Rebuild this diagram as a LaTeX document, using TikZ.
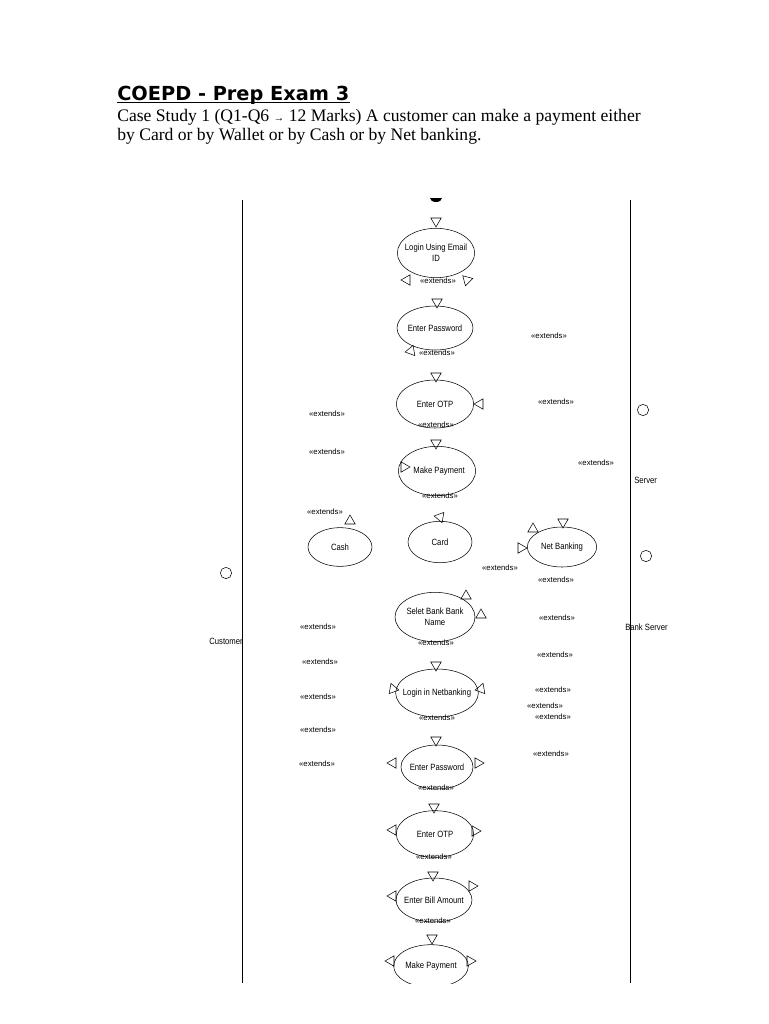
\documentclass[tikz,border=0pt]{standalone}
\usepackage{fontspec}
\setmainfont{Liberation Serif}
\newfontfamily\headfont{DejaVu Sans}
\newfontfamily\umlfont{Liberation Sans}
\newfontfamily\ucfont[FakeStretch=0.85]{Liberation Sans}
\usetikzlibrary{shapes.geometric}

\begin{document}
\begin{tikzpicture}[x=0.75pt,y=-0.75pt,
    uctext/.style={inner sep=0pt,align=center,font=\ucfont\fontsize{6.8}{8}\selectfont},
    usecase/.style n args={3}{draw,ellipse,inner sep=0pt,minimum width=#1,minimum height=#2,label={[uctext]center:#3}},
    ext/.style={inner sep=0pt,font=\umlfont\fontsize{5.8}{7}\selectfont},
    tri/.style={draw,regular polygon,regular polygon sides=3,inner sep=0pt,minimum size=9pt},
    actor/.style={draw,circle,inner sep=0pt,minimum size=8.5pt},
    lbl/.style={inner sep=0pt,font=\ucfont\fontsize{6.8}{8}\selectfont}]
    \useasboundingbox (0,0) rectangle (768,1024);
    % heading
    \node[anchor=base west,inner sep=0pt,font=\headfont\bfseries\fontsize{14.5}{17}\selectfont] (title) at (117,100) {COEPD - Prep Exam 3};
    \draw[line width=0.9pt] ([yshift=-1.6pt]title.base west) -- ([yshift=-1.6pt]title.base east);
    \node[anchor=base west,inner sep=0pt,font=\fontsize{13.2}{15}\selectfont] (line1) at (117,121) {Case Study 1 (Q1-Q6 {\footnotesize →} 12 Marks) A customer can make a payment either};
    \node[anchor=base west,inner sep=0pt,font=\fontsize{13.2}{15}\selectfont] (line2) at (117,140) {by Card or by Wallet or by Cash or by Net banking.};
    \begin{scope}
    \clip (0,150) rectangle (768,983);
    % boundary lines
    \draw (242,200) -- (242,983);
    \draw (630,200) -- (630,983);
    % start marker
    \fill (430,198) arc[start angle=180,end angle=0,x radius=6,y radius=4] -- cycle;
    % use cases
    \node[usecase={58pt}{37pt}{Login Using Email\\ID}] (login) at (436,253) {};
    \node[usecase={57pt}{33pt}{Enter Password}] (pass1) at (435,328) {};
    \node[usecase={58pt}{36pt}{Enter OTP}] (otp1) at (435,404) {};
    \node[usecase={58pt}{37pt}{\ \ Make Payment}] (pay1) at (437,471) {};
    \node[usecase={48pt}{31pt}{Card}] (card) at (440,542) {};
    \node[usecase={48pt}{29pt}{Cash}] (cash) at (340,547) {};
    \node[usecase={52pt}{30pt}{Net Banking}] (net) at (562,547) {};
    \node[usecase={60pt}{37pt}{Selet Bank Bank\\Name}] (bank) at (435,617) {};
    \node[usecase={62pt}{36pt}{Login in Netbanking}] (netlogin) at (437,693) {};
    \node[usecase={54pt}{33pt}{Enter Password}] (pass2) at (437,767) {};
    \node[usecase={58pt}{35pt}{Enter OTP}] (otp2) at (435,834) {};
    \node[usecase={57pt}{33pt}{Enter Bill Amount}] (bill) at (434,900) {};
    \node[usecase={56pt}{32pt}{Make Payment}] (pay2) at (431,966) {};
    % open arrow heads
    \foreach \x/\y/\r [count=\i] in {436/221/180,407/280/90,467/280/165,437/302/180,411/351/100,
        436/376/180,480/404/90,436/443/180,404/467/150,440/517/200,350/521/0,533/529/0,563/522/-60,
        521/548/-90,466/596/0,481/615/0,436/665/180,393/689/20,481/689/-20,436/740/180,393/763/90,
        478/763/-90,434/807/180,393/830/90,475/831/-90,433/875/180,393/896/90,472/886/-90,
        432/938/180,391/961/90,470/961/-90}
        \node[tri,rotate=\r] (t\i) at (\x,\y) {};
    % stereotype labels
    \foreach \x/\y [count=\i] in {438/281,437/353,436/425,440/496,436/643,437/718,436/788,434/857,433/921,
        327/414,327/452,325/512,318/627,320/662,318/697,318/730,317/764,
        549/336,556/402,596/463,500/568,556/580,557/618,555/655,553/690,545/706,553/717,551/754}
        \node[ext] (x\i) at (\x,\y) {«extends»};
    \end{scope}
    % actors
    \node[actor] (customer) at (226,573) {};
    \node[lbl,anchor=east] (customerlbl) at (243,641) {Customer};
    \node[actor] (server) at (643,410) {};
    \node[lbl,anchor=west] (serverlbl) at (634,480) {Server};
    \node[actor] (bankserver) at (646,556) {};
    \node[lbl,anchor=west] (bankserverlbl) at (625,627) {Bank Server};
\end{tikzpicture}
\end{document}
